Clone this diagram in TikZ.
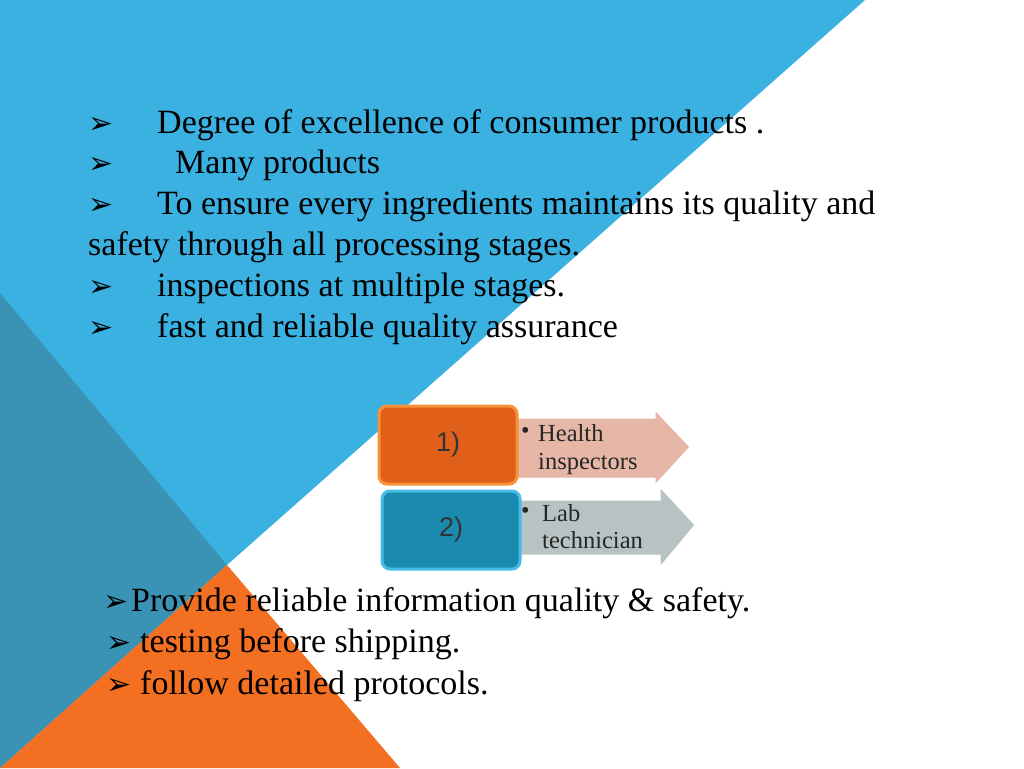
\documentclass[tikz,border=0pt]{standalone}
\usepackage{fontspec}
\setmainfont{Liberation Serif}
\newfontfamily\sym{DejaVu Sans}
\newfontfamily\ariel{Liberation Sans}
\definecolor{sky}{HTML}{3AB1E1}
\definecolor{teal}{HTML}{3A93B5}
\definecolor{orng}{HTML}{F36F21}
\definecolor{obox}{HTML}{E0601A}
\definecolor{oedge}{HTML}{F7913A}
\definecolor{bbox}{HTML}{1A8AAE}
\definecolor{bedge}{HTML}{45BDE6}
\definecolor{pinkarr}{HTML}{E6B6A6}
\definecolor{grayarr}{HTML}{B7C3C3}
\newcommand{\bul}{{\sym\fontsize{30}{30}\selectfont ➢}}
\tikzset{
  txt/.style={anchor=base west,inner sep=0pt,font=\fontsize{34}{34}\selectfont},
  num/.style={rounded corners=8pt,line width=3pt,minimum width=138pt,minimum height=78pt,font=\ariel\fontsize{27}{27}\selectfont,text=black!80},
  lab/.style={anchor=base west,inner sep=0pt,font=\fontsize{24.5}{24.5}\selectfont,text=black!85},
}
\begin{document}
\begin{tikzpicture}[x=1pt,y=-1pt]
\useasboundingbox (0,0) rectangle (1024,768);
\fill[white] (0,0) rectangle (1024,768);
\fill[sky] (0,0) -- (865,0) -- (227,565) -- (0,768) -- cycle;
\fill[teal] (0,293) -- (227,565) -- (0,768) -- cycle;
\fill[orng] (227,565) -- (400,768) -- (0,768) -- cycle;
% top list
\node[txt] (b1) at (88,133) {\bul};
\node[txt] (t1) at (157,133) {Degree of excellence of consumer products .};
\node[txt] (b2) at (88,173) {\bul};
\node[txt] (t2) at (175,173) {Many products};
\node[txt] (b3) at (88,214) {\bul};
\node[txt] (t3) at (157,214) {To ensure every ingredients maintains its quality and};
\node[txt] (t3b) at (88,255) {safety through all processing stages.};
\node[txt] (b4) at (88,296) {\bul};
\node[txt] (t4) at (157,296) {inspections at multiple stages.};
\node[txt] (b5) at (88,337) {\bul};
\node[txt] (t5) at (157,337) {fast and reliable quality assurance};
% arrows
\fill[pinkarr,draw=white,line width=1pt] (505,418) -- (655,418) -- (655,410) -- (690,447) -- (655,485) -- (655,478) -- (505,478) -- cycle;
\fill[grayarr,draw=white,line width=1pt] (505,500) -- (660,500) -- (660,487) -- (695,525) -- (660,567) -- (660,555) -- (505,555) -- cycle;
\node[num,fill=obox,draw=oedge] (n1) at (448,445) {1)};
\node[num,fill=bbox,draw=bedge] (n2) at (451,530) {2)};
\node[lab] (d1) at (521,438) {•};
\node[lab] (h1) at (538,441) {Health};
\node[lab] (h2) at (538,469) {inspectors};
\node[lab] (d2) at (521,518) {•};
\node[lab] (l1) at (542,521) {Lab};
\node[lab] (l2) at (542,548) {technician};
% bottom list
\node[txt] (c1) at (103,611) {\bul};
\node[txt] (u1) at (131,611) {Provide reliable information quality \& safety.};
\node[txt] (c2) at (106,652) {\bul};
\node[txt] (u2) at (140,652) {testing before shipping.};
\node[txt] (c3) at (106,694) {\bul};
\node[txt] (u3) at (140,694) {follow detailed protocols.};
\end{tikzpicture}
\end{document}
